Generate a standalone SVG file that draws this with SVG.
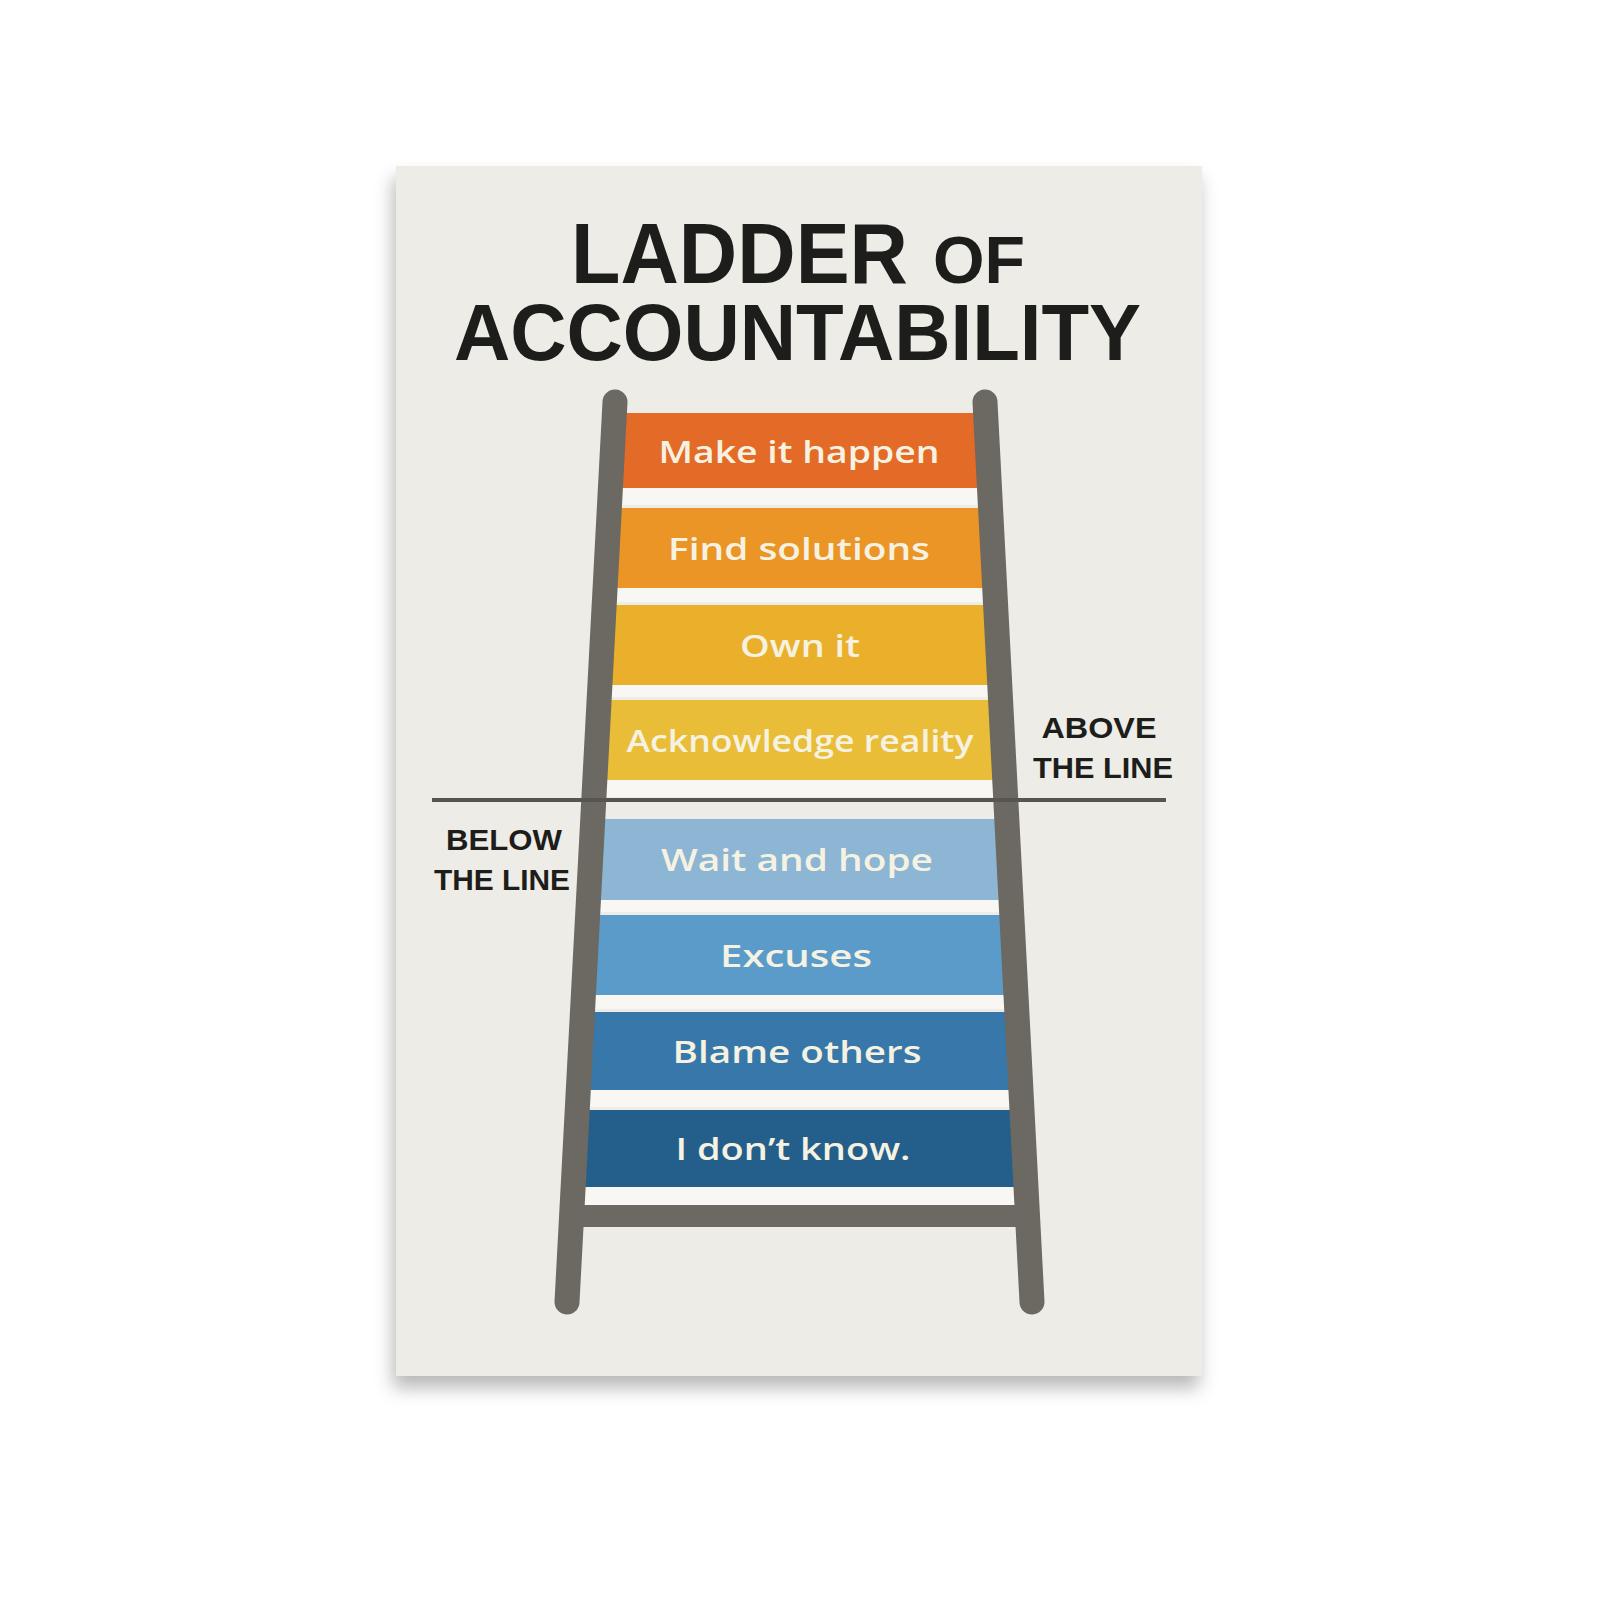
<svg xmlns="http://www.w3.org/2000/svg" width="1600" height="1600" viewBox="0 0 1600 1600">
  <defs>
    <filter id="shadow" x="-10%" y="-10%" width="120%" height="125%">
      <feDropShadow dx="-3" dy="12" stdDeviation="9" flood-color="#000" flood-opacity="0.28"/>
    </filter>
    <style>
      .title { font-family: "Liberation Sans", Arial, sans-serif; font-weight: 700; fill: #1d1d1b; }
      .side { font-family: "Liberation Sans", Arial, sans-serif; font-weight: 700; font-size: 30px; fill: #1d1d1b; text-anchor: middle; }
      .step { font-family: "Open Sans", "Liberation Sans", sans-serif; font-weight: 600; font-size: 31px; fill: #f6f2e2; text-anchor: middle; }
      .rung { fill: #f8f7f3; }
      .rail { stroke: #6b6961; stroke-width: 25; stroke-linecap: round; fill: none; }
    </style>
  </defs>

  <rect x="0" y="0" width="1600" height="1600" fill="#ffffff"/>
  <rect id="poster" x="396" y="166" width="806" height="1210" fill="#eeece6" filter="url(#shadow)"/>

  <g id="title">
    <text class="title" x="571" y="283" font-size="85" textLength="337" lengthAdjust="spacingAndGlyphs">LADDER</text>
    <text class="title" x="933" y="283" font-size="66" textLength="92" lengthAdjust="spacingAndGlyphs">OF</text>
    <text class="title" x="454" y="360" font-size="80" textLength="687" lengthAdjust="spacingAndGlyphs">ACCOUNTABILITY</text>
  </g>

  <g id="rungs">
    <polygon class="rung" points="610.4,488 989.5,488 990.4,505 609.5,505"/>
    <polygon class="rung" points="605.1,588 994.7,588 995.4,602 604.3,602"/>
    <polygon class="rung" points="599.9,685 999.8,685 1000.4,697 599.3,697"/>
    <polygon class="rung" points="594.8,780 1004.7,780 1005.6,797 593.9,797"/>
    <polygon class="rung" points="588.4,900 1011.0,900 1011.6,912 587.8,912"/>
    <polygon class="rung" points="583.4,995 1016.0,995 1016.7,1009 582.6,1009"/>
    <polygon class="rung" points="578.3,1090 1020.9,1090 1021.8,1107 577.4,1107"/>
    <polygon class="rung" points="573.1,1187 1026.0,1187 1026.9,1205 572.2,1205"/>
  </g>

  <g id="step-make-it-happen">
    <polygon points="614.4,413 985.6,413 989.5,488 610.4,488" fill="#e46a27"/>
    <text class="step" x="799" y="463" textLength="281" lengthAdjust="spacingAndGlyphs">Make it happen</text>
  </g>
  <g id="step-find-solutions">
    <polygon points="609.3,508 990.5,508 994.7,588 605.1,588" fill="#eb9526"/>
    <text class="step" x="799" y="560" textLength="262" lengthAdjust="spacingAndGlyphs">Find solutions</text>
  </g>
  <g id="step-own-it">
    <polygon points="604.2,605 995.6,605 999.8,685 599.9,685" fill="#ebb02b"/>
    <text class="step" x="800" y="657" textLength="120" lengthAdjust="spacingAndGlyphs">Own it</text>
  </g>
  <g id="step-acknowledge-reality">
    <polygon points="599.1,700 1000.6,700 1004.7,780 594.8,780" fill="#e9bd38"/>
    <text class="step" x="800" y="752" textLength="347" lengthAdjust="spacingAndGlyphs">Acknowledge reality</text>
  </g>
  <g id="step-wait-and-hope">
    <polygon points="592.8,819 1006.8,819 1011.0,900 588.4,900" fill="#8db6d5"/>
    <text class="step" x="797" y="871" textLength="272" lengthAdjust="spacingAndGlyphs">Wait and hope</text>
  </g>
  <g id="step-excuses">
    <polygon points="587.6,915 1011.8,915 1016.0,995 583.4,995" fill="#5b9bca"/>
    <text class="step" x="796" y="967" textLength="152" lengthAdjust="spacingAndGlyphs">Excuses</text>
  </g>
  <g id="step-blame-others">
    <polygon points="582.5,1012 1016.9,1012 1020.9,1090 578.3,1090" fill="#3777a9"/>
    <text class="step" x="797" y="1063" textLength="249" lengthAdjust="spacingAndGlyphs">Blame others</text>
  </g>
  <g id="step-i-dont-know">
    <polygon points="577.2,1110 1022.0,1110 1026.0,1187 573.1,1187" fill="#245f8c"/>
    <text class="step" x="793" y="1160" textLength="235" lengthAdjust="spacingAndGlyphs">I don’t know.</text>
  </g>

  <g id="ladder-frame">
    <polygon points="572.2,1205 1026.9,1205 1028.1,1227 571.0,1227" fill="#6b6961"/>
    <line class="rail" x1="615" y1="402" x2="567" y2="1302"/>
    <line class="rail" x1="985" y1="402" x2="1032" y2="1302"/>
  </g>

  <g id="connectors">
    <line id="the-line" x1="432" y1="800" x2="1166" y2="800" stroke="#56554f" stroke-width="4"/>
  </g>

  <g id="label-above">
    <text class="side" x="1099" y="738" textLength="115" lengthAdjust="spacingAndGlyphs">ABOVE</text>
    <text class="side" x="1103" y="778" textLength="140" lengthAdjust="spacingAndGlyphs">THE LINE</text>
  </g>
  <g id="label-below">
    <text class="side" x="504" y="850" textLength="116" lengthAdjust="spacingAndGlyphs">BELOW</text>
    <text class="side" x="502" y="890" textLength="136" lengthAdjust="spacingAndGlyphs">THE LINE</text>
  </g>
</svg>
